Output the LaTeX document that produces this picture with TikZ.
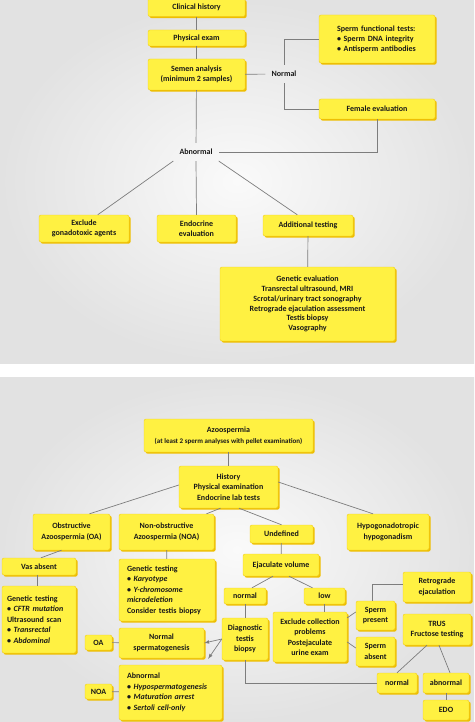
\documentclass[tikz,border=0pt]{standalone}
\usepackage{fontspec}
\setmainfont{Carlito}
\usetikzlibrary{shapes,arrows,positioning,shadows}
\definecolor{boxyellow}{RGB}{255,241,66}
\definecolor{boxedge}{RGB}{242,205,30}
\definecolor{boxshadow}{RGB}{238,190,0}
\definecolor{linegray}{RGB}{125,125,125}
\definecolor{ink}{RGB}{25,25,25}
\definecolor{panelout}{RGB}{226,226,226}
\definecolor{panelin}{RGB}{250,250,250}
\tikzstyle{box} = [draw=boxedge,fill=boxyellow,rounded corners=2pt,align=center,inner sep=2pt,text=ink,font=\bfseries\fontsize{8}{10}\selectfont,drop shadow={shadow xshift=1.6pt,shadow yshift=-1.6pt,fill=boxshadow,opacity=1}]
\tikzstyle{lbox} = [box,align=left,inner xsep=8pt]
\tikzstyle{bbox} = [box,font=\bfseries\fontsize{8}{10.5}\selectfont]
\tikzstyle{blbox} = [lbox,font=\bfseries\fontsize{8}{10.5}\selectfont]
\tikzstyle{tag} = [text=ink,font=\bfseries\fontsize{8}{10}\selectfont,inner sep=6pt]
\tikzstyle{link} = [-,draw=linegray,line width=0.7pt]
\tikzstyle{pointer} = [link,-latex]
\def \bul {\textbullet\ }

\begin{document}
\begin{tikzpicture}[x=1pt,y=-1pt]
      \useasboundingbox (0,0) rectangle (474,722);
      % panels
      \shade[inner color=panelin,outer color=panelout] (0,0) rectangle (474,363);
      \shade[inner color=panelin,outer color=panelout] (0,377) rectangle (474,722);

      % semen analysis workup
      \node[box,minimum width=97pt,minimum height=18pt] (clin) at (196.5,7.5) {Clinical history};
      \node[box,minimum width=97pt,minimum height=16pt] (phys) at (196.5,38) {Physical exam};
      \node[box,minimum width=97pt,minimum height=31pt] (semen) at (196.5,74.5) {Semen analysis\\(minimum 2 samples)};
      \node[tag] (ok) at (284,74) {Normal};
      \node[box,minimum width=116pt,minimum height=48pt,text width=80pt,align=left] (sft) at (377,39) {Sperm functional tests:\\\bul Sperm DNA integrity\\\bul Antisperm antibodies};
      \node[box,minimum width=116pt,minimum height=20pt] (fem) at (377,109) {Female evaluation};
      \node[tag] (abn) at (196,152) {Abnormal};
      \node[box,minimum width=90pt,minimum height=27pt] (excl) at (84,228.5) {Exclude\\gonadotoxic agents};
      \node[box,minimum width=79pt,minimum height=27pt] (endo) at (196.5,228.5) {Endocrine\\evaluation};
      \node[box,minimum width=90pt,minimum height=21pt] (addt) at (308,225.5) {Additional testing};
      \node[box,minimum width=175pt,minimum height=74pt,font=\bfseries\fontsize{8}{9.8}\selectfont] (tests) at (307.5,304) {Genetic evaluation\\Transrectal ultrasound, MRI\\Scrotal/urinary tract sonography\\Retrograde ejaculation assessment\\Testis biopsy\\Vasography};

      \draw[link] (clin) -- (phys);
      \draw[link] (phys) -- (semen);
      \draw[link] (semen) -- (abn);
      \draw[link] (semen) -- (ok);
      \draw[link] (ok.north) |- (sft.west);
      \draw[link] (ok.south) |- (fem.west);
      \draw[link] (fem.south) |- (abn.east);
      \draw[link] (abn.south west) -- (excl.45);
      \draw[link] (abn.south) -- (endo.north);
      \draw[link] (abn.south east) -- (addt.135);
      \draw[link] (addt) -- (tests);

      % azoospermia workup
      \node[bbox,minimum width=169pt,minimum height=33pt] (azoo) at (228.5,435.5) {Azoospermia\\{\fontsize{7}{8.5}\selectfont(at least 2 sperm analyses with pellet examination)}};
      \node[bbox,minimum width=99pt,minimum height=42pt] (hist) at (228.5,487) {History\\Physical examination\\Endocrine lab tests};
      \node[bbox,minimum width=77pt,minimum height=36pt] (oa) at (71.5,532) {Obstructive\\Azoospermia (OA)};
      \node[bbox,minimum width=95pt,minimum height=36pt] (noa) at (166.5,532) {Non-obstructive\\Azoospermia (NOA)};
      \node[bbox,minimum width=63pt,minimum height=18pt] (undef) at (281.5,534) {Undefined};
      \node[bbox,minimum width=82pt,minimum height=36pt] (hypo) at (388,532) {Hypogonadotropic\\hypogonadism};
      \node[bbox,minimum width=74pt,minimum height=17pt] (vas) at (39,566.5) {Vas absent};
      \node[blbox,inner xsep=5pt,text width=64pt,minimum height=67pt] (vasgen) at (39,619.5) {Genetic testing\\\bul\textit{CFTR mutation}\\Ultrasound scan\\\bul\textit{Transrectal}\\\bul\textit{Abdominal}};
      \node[blbox,text width=80pt,minimum height=62pt] (noagen) at (167,590) {Genetic testing\\\bul\textit{Karyotype}\\\bul\textit{Y-chromosome}\\\textit{microdeletion}\\Consider testis biopsy};
      \node[bbox,minimum width=27pt,minimum height=15pt] (oatag) at (98.5,642.5) {OA};
      \node[bbox,minimum width=85pt,minimum height=30pt] (normsp) at (161.5,643) {Normal\\spermatogenesis};
      \node[bbox,minimum width=27pt,minimum height=15pt] (noatag) at (98.5,691.5) {NOA};
      \node[blbox,text width=87pt,minimum height=55pt] (abnl) at (170.5,692.5) {Abnormal\\\bul\textit{Hypospermatogenesis}\\\bul\textit{Maturation arrest}\\\bul\textit{Sertoli cell-only}};
      \node[bbox,minimum width=46pt,minimum height=42pt] (diag) at (245,639) {Diagnostic\\testis\\biopsy};
      \node[bbox,minimum width=76pt,minimum height=22pt] (ejac) at (281,565) {Ejaculate volume};
      \node[bbox,minimum width=42pt,minimum height=16pt] (normvol) at (245,596) {normal};
      \node[bbox,minimum width=41pt,minimum height=16pt] (lowvol) at (324.5,596) {low};
      \node[bbox,minimum width=74pt,minimum height=50pt] (collect) at (310,637) {Exclude collection\\problems\\Postejaculate\\urine exam};
      \node[bbox,minimum width=39pt,minimum height=29pt] (spres) at (375.5,615.5) {Sperm\\present};
      \node[bbox,minimum width=39pt,minimum height=29pt] (sabs) at (375.5,651.5) {Sperm\\absent};
      \node[bbox,minimum width=68pt,minimum height=30pt] (retro) at (437,587) {Retrograde\\ejaculation};
      \node[bbox,minimum width=68pt,minimum height=31pt] (trus) at (437,629.5) {TRUS\\Fructose testing};
      \node[bbox,minimum width=40pt,minimum height=20pt] (trusok) at (397,683) {normal};
      \node[bbox,minimum width=46pt,minimum height=20pt] (trusab) at (446,683) {abnormal};
      \node[bbox,minimum width=46pt,minimum height=20pt] (edo) at (446,710) {EDO};

      \draw[link] (azoo) -- (hist);
      \draw[link] ([yshift=2pt]hist.west) -- ([xshift=18pt]oa.north);
      \draw[link] ([xshift=-8pt]hist.south) -- ([xshift=40pt]noa.north);
      \draw[link] ([xshift=10.5pt]hist.south) -- (undef.north);
      \draw[link] ([yshift=5pt]hist.east) -- ([xshift=-15pt]hypo.north);
      \draw[link] ([xshift=-10pt]oa.south) -- ([xshift=2pt]vas.north);
      \draw[link] ([xshift=-2pt]vas.south) -- ([xshift=-2pt]vasgen.north);
      \draw[link] (noa) -- (noagen);
      \draw[link] (oatag) -- (normsp);
      \draw[link] (noatag) -- (abnl);
      \draw[pointer] (diag.west) -- (normsp.east);
      \draw[pointer] (diag.west) -- ([xshift=-14pt,yshift=6pt]abnl.north east);
      \draw[link] (undef) -- (ejac);
      \draw[link] ([xshift=-8pt]ejac.south) -- ([xshift=7pt]normvol.north);
      \draw[link] ([xshift=8pt]ejac.south) -- ([xshift=-12pt]lowvol.north);
      \draw[link] (normvol) -- (diag);
      \draw[link] (lowvol.south) -- (lowvol.south |- collect.north);
      \draw[link] ([yshift=-6pt]collect.north east) -- ([yshift=3.5pt]spres.west);
      \draw[link] ([yshift=-5pt]collect.east) -- ([yshift=3.5pt]sabs.west);
      \draw[link] ([xshift=-3.5pt]spres.north) |- ([yshift=3pt]retro.west);
      \draw[link] ([xshift=-10pt]trus.south) -- (trusok.north);
      \draw[link] ([xshift=2pt]trus.south) -- ([xshift=4pt]trusab.north);
      \draw[link] (trusab) -- (edo);
      \draw[link] (diag.south) |- (trusok.west);
    \end{tikzpicture}
\end{document}
